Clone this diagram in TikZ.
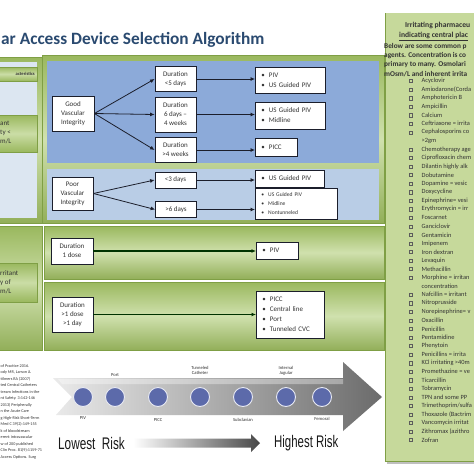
\documentclass[tikz,border=0pt]{standalone}
\usepackage{fontspec}
\setmainfont{Carlito}
\newfontfamily\arialf{Liberation Sans}
\usetikzlibrary{arrows.meta}
\definecolor{titleblue}{HTML}{2A4A70}
\definecolor{gdark}{HTML}{9AB85E}
\definecolor{glight}{HTML}{D0E1AE}
\definecolor{gline}{HTML}{7F9F45}
\definecolor{blueA}{HTML}{8CAAD9}
\definecolor{blueB}{HTML}{B9CDE6}
\definecolor{blueL}{HTML}{DCE6F1}
\definecolor{linec}{HTML}{1B1E2B}
\definecolor{rightg}{HTML}{C6D99B}
\definecolor{circ}{HTML}{5C6AAA}
\definecolor{txt}{HTML}{333333}
\newcommand{\bl}{\textbullet\hspace{4pt}}
\begin{document}
\begin{tikzpicture}[x=1pt,y=-1pt,
 box/.style={draw=linec, fill=white, line width=0.8pt, align=center,
   font=\fontsize{7}{9}\selectfont, inner sep=1pt, text=txt},
 res/.style={draw=linec, fill=white, line width=0.8pt, align=left, anchor=west,
   font=\fontsize{7}{10}\selectfont, inner xsep=6pt, inner ysep=1pt, text=txt},
 arr/.style={-{Latex[length=4.5pt,width=4pt]}, draw=linec, line width=0.8pt},
 garr/.style={-{Latex[length=4.5pt,width=4pt]}, draw=black!80!green, line width=1.1pt},
 gpanel/.style={top color=gdark, bottom color=gdark!95!black, middle color=glight, draw=gline, line width=0.5pt},
 gbox/.style={top color=gdark, bottom color=gdark, middle color=glight!90!gdark, draw=gline, line width=0.6pt},
 listt/.style={anchor=west, font=\fontsize{6.4}{7}\selectfont, text=txt, inner sep=0pt},
 chk/.style={draw=txt!80, line width=0.35pt, minimum size=3.2pt, inner sep=0pt},
 reft/.style={anchor=west, font=\fontsize{4.2}{5}\selectfont, text=txt, inner sep=0pt},
 blbl/.style={font=\fontsize{4.6}{5}\selectfont, text=txt, align=center, inner sep=0pt},
 para/.style={anchor=west, font=\bfseries\fontsize{7.3}{9}\selectfont, text=txt, inner sep=0pt},
 dot/.style={circle, fill=circ, draw=white!85!circ, line width=0.9pt, minimum size=19pt, inner sep=0pt}
]
\useasboundingbox (0,0) rectangle (474,474);
\clip (0,0) rectangle (474,474);
\fill[white] (0,0) rectangle (474,474);

% title
\node[anchor=west, font=\bfseries\fontsize{17.3}{20}\selectfont, text=titleblue, inner sep=0pt] (title) at (1,40) {ar Access Device Selection Algorithm};

% left column
\shade[gpanel] (-2,57) rectangle (42,223);
\fill[blueL] (-2,62) rectangle (37,218);
\shade[gbox] (-2,67) rectangle (37,81);
\node[anchor=east, font=\bfseries\fontsize{4.6}{5}\selectfont, text=txt, inner sep=0pt] (hdr) at (35,74) {acteristics};
\shade[gbox] (-2,115) rectangle (37,152);
\node[anchor=west, align=left, font=\fontsize{7}{9}\selectfont, text=txt, inner sep=0pt] (irr1) at (0,132) {ant\\ty <\\m/L};
\shade[gpanel] (-2,226) rectangle (42,350);
\shade[gbox] (-2,263) rectangle (37,302);
\node[anchor=west, align=left, font=\fontsize{7}{9}\selectfont, text=txt, inner sep=0pt] (irr2) at (0,282) {rritant\\y of\\m/L};

% middle frame
\shade[gpanel] (42,55) rectangle (384,223);
\fill[blueA] (47,61) rectangle (379,163);
\fill[blueB] (47,169) rectangle (379,220);
\shade[gpanel] (44,226) rectangle (384,279);
\shade[gpanel] (44,282) rectangle (384,350);

% right panel
\fill[black!25] (387,15) rectangle (480,464);
\fill[rightg] (385,13) rectangle (480,461);
\draw[gline, line width=0.8pt] (385,13) -- (385,461) -- (480,461);
\node[anchor=west, font=\bfseries\fontsize{7.6}{9}\selectfont, text=txt, inner sep=0pt] (rt1) at (405,25) {Irritating pharmaceu};
\node[anchor=west, font=\bfseries\fontsize{7.6}{9}\selectfont, text=txt, inner sep=0pt] (rt2) at (399,36) {\underline{indicating central plac}};
\node[para] (rp1) at (384,47) {Below are some common p};
\node[para] (rp2) at (384,56) {agents. Concentration is co};
\node[para] (rp3) at (384,65) {primary to many. Osmolari};
\node[para] (rp4) at (384,74) {mOsm/L and inherent irrita};
\foreach \b/\itm [count=\i from 0] in {1/Acyclovir, 1/{Amiodarone(Corda}, 1/{Amphotericin B}, 1/Ampicillin, 1/Calcium,
  1/{Ceftriaxone = irrita}, 1/{Cephalosporins co}, 0/{>2gm}, 1/{Chemotherapy age}, 1/{Ciprofloxacin chem},
  1/{Dilantin highly alk}, 1/Dobutamine, 1/{Dopamine = vesic}, 1/Doxycycline, 1/{Epinephrine= vesi},
  1/{Erythromycin = irr}, 1/Foscarnet, 1/Ganciclovir, 1/Gentamicin, 1/Imipenem, 1/{Iron dextran}, 1/Levaquin,
  1/Methacillin, 1/{Morphine = irritan}, 0/concentration, 1/{Nafcillin = irritant}, 1/Nitroprusside,
  1/{Norepinephrine= v}, 1/Oxacillin, 1/Penicillin, 1/Pentamidine, 1/Phenytoin, 1/{Penicillins = irrita},
  1/{KCl irritating >40m}, 1/{Promethazine = ve}, 1/Ticarcillin, 1/Tobramycin, 1/{TPN and some PP},
  1/{Trimethoprim/sulfa}, 1/{Thoxazole (Bactrim}, 1/{Vancomycin irritat}, 1/{Zithromax (azithro}, 1/Zofran}
{
  \node[listt] (li\i) at (421.5, 81+8.548*\i) {\itm};
  \ifnum\b=1 \node[chk] (cb\i) at (411, 81+8.548*\i) {};\fi
}

% nodes panel 1 & 2
\node[box, minimum width=42pt, minimum height=35pt] (good) at (73,113.5) {Good\\Vascular\\Integrity};
\node[box, minimum width=41pt, minimum height=33pt] (poor) at (72.5,193.5) {Poor\\Vascular\\Integrity};
\node[box, minimum width=41pt, minimum height=25pt] (d1) at (175.5,79) {Duration\\<5 days};
\node[box, minimum width=41pt, minimum height=35pt] (d2) at (175.5,114.5) {Duration\\6 days --\\4 weeks};
\node[box, minimum width=41pt, minimum height=25pt] (d3) at (175.5,150) {Duration\\>4 weeks};
\node[box, minimum width=41pt, minimum height=16pt] (d4) at (175.5,180) {<3 days};
\node[box, minimum width=41pt, minimum height=16pt] (d5) at (176,209.5) {>6 days};
\node[res, text width=58pt, minimum height=26pt] (r1) at (255,80) {\bl PIV\\\bl US Guided PIV};
\node[res, text width=58pt, minimum height=27pt] (r2) at (255,115.5) {\bl US Guided PIV\\\bl Midline};
\node[res, text width=30pt, minimum height=18pt] (r3) at (255,147) {\bl PICC};
\node[res, text width=57pt, minimum height=17pt] (r4) at (255,178.5) {\bl US Guided PIV};
\node[res, text width=70pt, minimum height=31pt, font=\fontsize{5.6}{8.6}\selectfont] (r5) at (255,203.5) {\bl US Guided PIV\\\bl Midline\\\bl Nontunneled};
% panel 3 & 4
\node[box, minimum width=42pt, minimum height=26pt] (one) at (72,251) {Duration\\1 dose};
\node[box, minimum width=41pt, minimum height=35pt] (more) at (72.5,314.5) {Duration\\>1 dose\\>1 day};
\node[res, text width=30pt, minimum height=17pt] (r6) at (256,250.5) {\bl PIV};
\node[res, text width=56pt, minimum height=47pt] (r7) at (256,314.5) {\bl PICC\\\bl Central line\\\bl Port\\\bl Tunneled CVC};

% connectors
\draw[arr] (good.east) -- (d1.west);
\draw[arr] (good.east) -- (d2.west);
\draw[arr] (good.east) -- (d3.west);
\draw[arr] (poor.east) -- (d4.west);
\draw[arr] (poor.east) -- (d5.west);
\draw[arr] (d1.east) -- (d1.east -| r1.west);
\draw[arr] (d2.east) -- (d2.east -| r2.west);
\draw[arr] (d3.east) -- (d3.east -| r3.west);
\draw[arr] (d4.east) -- (d4.east -| r4.west);
\draw[arr] (d5.east) -- (d5.east -| r5.west);
\draw[garr] (one.east) -- (one.east -| r6.west);
\draw[garr] (more.east) -- (more.east -| r7.west);

% references
\foreach \r [count=\i from 0] in {of Practice 2016., {ody MR, Larson JL}, tilmers RA (2007), ted Central Catheters,
  tream Infections in the, nt Safety. 3:142-146, 2013) Peripherally, n the Acute Care, g High-Risk Short-Term,
  Med C 39(2):149-155, k of bloodstream, erent intravascular, w of 200 published, Clin Proc. 81(9):1159-71,
  Access Options. Surg}
{ \node[reft] (ref\i) at (0.5, 366+6.5*\i) {\r}; }

% risk arrow
\shade[left color=black!8, right color=black!58] (53,378) -- (343,378) -- (343,362) -- (382,397) -- (343,431) -- (343,415) -- (56,415) -- (72,397) -- cycle;
\fill[white, opacity=0.35] (58,379) -- (343,379) -- (343,384) -- (62,384) -- cycle;
\node[dot] (c1) at (83,397) {};
\node[dot] (c2) at (115,397) {};
\node[dot] (c3) at (158,397) {};
\node[dot] (c4) at (200,397) {};
\node[dot] (c5) at (243,397) {};
\node[dot] (c6) at (286,397) {};
\node[dot] (c7) at (322,397) {};
\node[blbl] (lport) at (115,375) {Port};
\node[blbl] (ltun) at (200,370.5) {Tunneled\\Catheter};
\node[blbl] (lij) at (286,370.5) {Internal\\Jugular};
\node[blbl] (lpiv) at (83,418) {PIV};
\node[blbl] (lpicc) at (158,420) {PICC};
\node[blbl] (lsub) at (243,420) {Subclavian};
\node[blbl] (lfem) at (322,419) {Femoral};

\shade[left color=white, right color=black!72] (133,438.5) -- (251,438.5) -- (251,434) -- (260,443) -- (251,452) -- (251,447.5) -- (133,447.5) -- cycle;
\node[anchor=west, inner sep=0pt, font=\arialf\fontsize{16.8}{18}\selectfont, text=black!90] (low) at (58,443) {\scalebox{0.7}[1]{Lowest\ \ Risk}};
\node[anchor=west, inner sep=0pt, font=\arialf\fontsize{16.8}{18}\selectfont, text=black!90] (high) at (274,443) {\scalebox{0.68}[1]{Highest Risk}};
\end{tikzpicture}
\end{document}
